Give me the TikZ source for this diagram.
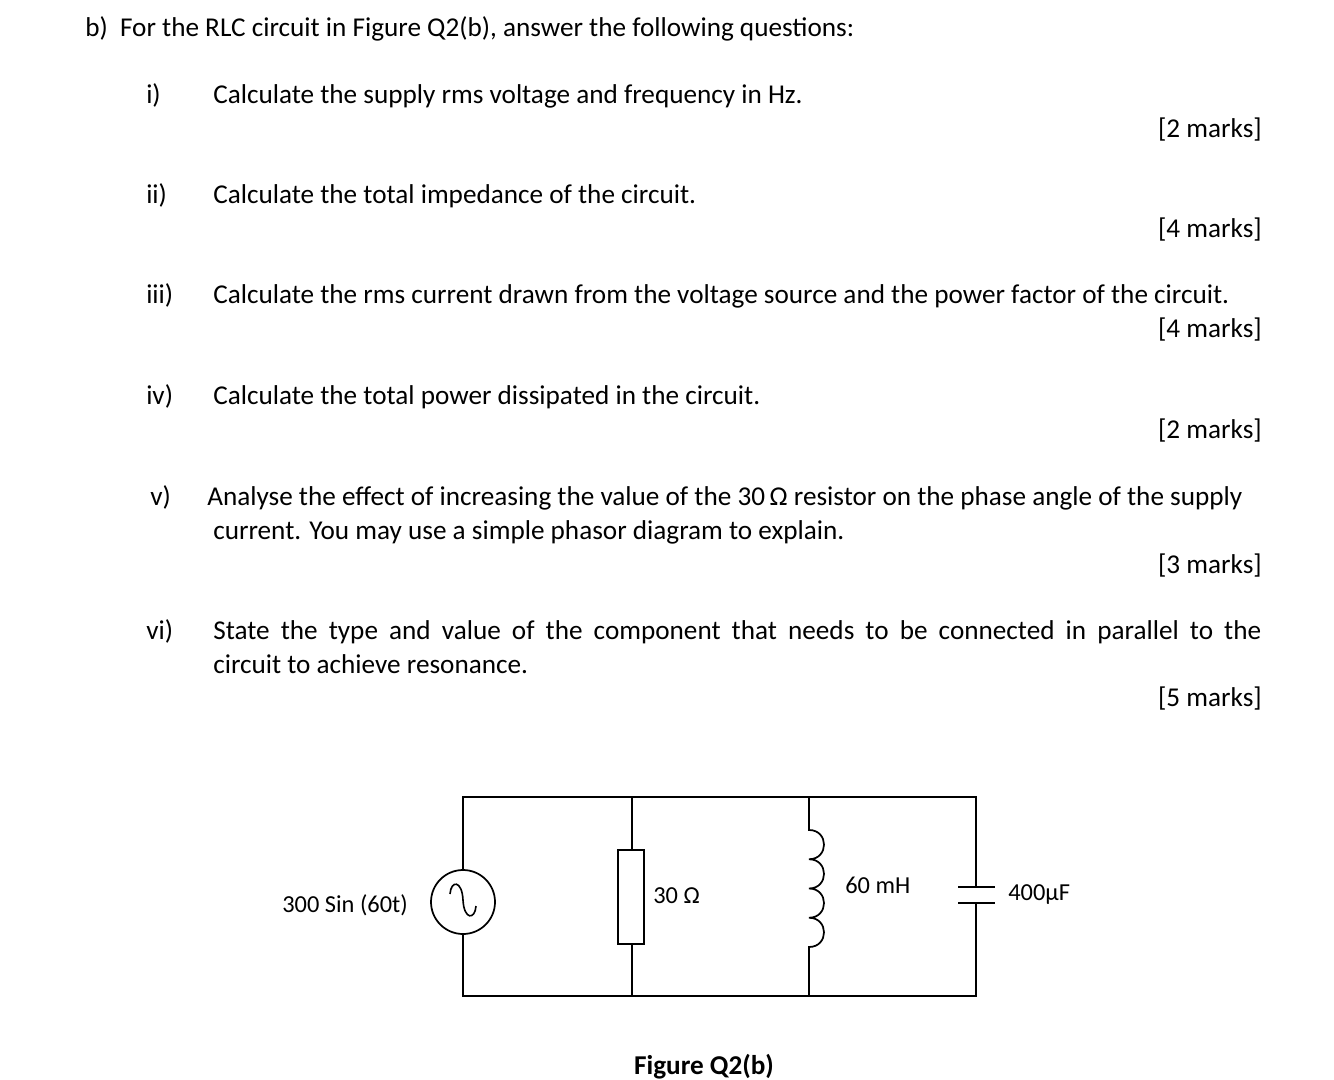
\documentclass[tikz,border=0pt]{standalone}
\usepackage{fontspec}
\setmainfont{Carlito}
\begin{document}
\begin{tikzpicture}[x=0.75pt,y=-0.75pt,
  txt/.style={anchor=base west,inner sep=0pt,font=\fontsize{20.4}{24}\selectfont},
  mk/.style={anchor=base east,inner sep=0pt,font=\fontsize{20.4}{24}\selectfont},
  lbl/.style={anchor=base west,inner sep=0pt,font=\fontsize{18.3}{21}\selectfont},
  wire/.style={line width=1.3pt}]
\useasboundingbox (0,0) rectangle (1334,1080);
\node[txt] (t0) at (85,37) {b)\ \ For the RLC circuit in Figure Q2(b), answer the following questions:};
\node[txt] (n1) at (146,104) {i)}; \node[txt] (q1) at (213,104) {Calculate the supply rms voltage and frequency in Hz.};
\node[mk] (m1) at (1262,138) {[2 marks]};
\node[txt] (n2) at (146,204) {ii)}; \node[txt] (q2) at (213,204) {Calculate the total impedance of the circuit.};
\node[mk] (m2) at (1262,238) {[4 marks]};
\node[txt] (n3) at (146,304) {iii)}; \node[txt] (q3) at (213,304) {Calculate the rms current drawn from the voltage source and the power factor of the circuit.};
\node[mk] (m3) at (1262,338) {[4 marks]};
\node[txt] (n4) at (146,404) {iv)}; \node[txt] (q4) at (213,404) {Calculate the total power dissipated in the circuit.};
\node[mk] (m4) at (1262,438) {[2 marks]};
\node[txt] (n5) at (150,505) {v)}; \node[txt] (q5) at (207,505) {Analyse the effect of increasing the value of the 30\,Ω resistor on the phase angle of the supply};
\node[txt] (q5b) at (213,539) {current. You may use a simple phasor diagram to explain.};
\node[mk] (m5) at (1262,573) {[3 marks]};
\node[txt] (n6) at (146,639) {vi)}; \node[txt] (q6) at (213,639) {\makebox[786pt][s]{State the type and value of the component that needs to be connected in parallel to the}};
\node[txt] (q6b) at (213,673) {circuit to achieve resonance.};
\node[mk] (m6) at (1262,706) {[5 marks]};
% circuit
\coordinate (TL) at (463,797); \coordinate (BL) at (463,996);
\coordinate (TR) at (976,797); \coordinate (BR) at (976,996);
\draw[wire] (463,870) -- (TL) -- (TR) -- (976,887);
\draw[wire] (463,934) -- (BL) -- (BR) -- (976,903);
\node[draw,line width=1.3pt,circle,minimum size=48pt,inner sep=0pt] (src) at (463,902) {};
\draw[wire] (632,797) -- (632,850); \draw[wire] (632,944) -- (632,996);
\node[draw,line width=1.3pt,minimum width=19.5pt,minimum height=70.5pt,inner sep=0pt] (res) at (631,897) {};
\draw[wire] (809,797) -- (809,830)
  .. controls (829,830) and (829,859.25) .. (809,859.25)
  .. controls (829,859.25) and (829,888.5) .. (809,888.5)
  .. controls (829,888.5) and (829,917.75) .. (809,917.75)
  .. controls (829,917.75) and (829,947) .. (809,947) -- (809,996);
\draw[line width=2.2pt] (958,887) -- (995,887); \draw[line width=2.2pt] (958,903) -- (995,903);
\draw[line width=1.2pt] (450,894) .. controls (451,880) and (462,880) .. (463,900) .. controls (464,920) and (475,920) .. (476,906);
\node[lbl] (ls) at (282,912) {300 Sin (60t)};
\node[lbl] (lr) at (653,903) {30 Ω};
\node[lbl] (ll) at (845,893) {60 mH};
\node[lbl] (lc) at (1008,900) {400μF};
\node[anchor=base,inner sep=0pt,font=\fontsize{20.4}{24}\selectfont\bfseries] (fig) at (704,1074) {Figure Q2(b)};
\end{tikzpicture}
\end{document}
